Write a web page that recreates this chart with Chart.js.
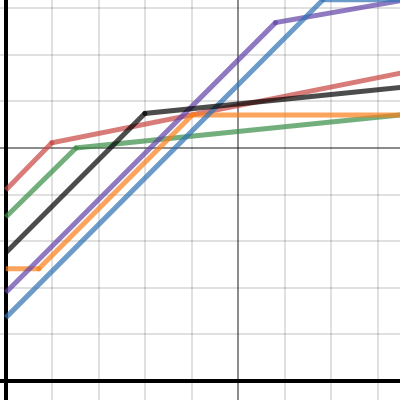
<!DOCTYPE html>
<html>
<head>
<meta charset="utf-8">
<script src="https://cdn.jsdelivr.net/npm/chart.js@4"></script>
<style>
  html, body { margin: 0; padding: 0; background: #fff; }
  #wrap { width: 400px; height: 400px; }
</style>
</head>
<body>
<div id="wrap"><canvas id="plot"></canvas></div>
<script>
// vertices of each piecewise line (grid unit = 1)
const blackX = [0, 2.99, 8.6];
const blackY = [2.75, 5.74, 6.31];
const blueX = [0, 6.82, 8.6];
const blueY = [1.36, 8.18, 8.18];
const purpleX = [0, 5.80, 8.6];
const purpleY = [1.90, 7.69, 8.18];
const orangeX = [0, 0.71, 4.01, 8.6];
const orangeY = [2.41, 2.41, 5.71, 5.71];
const greenX = [0, 1.51, 8.6];
const greenY = [3.52, 5.00, 5.72];
const redX = [0, 0.99, 8.6];
const redY = [4.10, 5.11, 6.63];

const gridTicks = [0, 1, 2, 3, 4, 5, 6, 7, 8];

function pts(xs, ys) {
  return xs.map((x, i) => ({ x: x, y: ys[i] }));
}
// dot only on the inner vertices
function dots(xs) {
  return xs.map((x, i) => (i === 0 || i === xs.length - 1) ? 0 : 2.5);
}

function line(label, xs, ys, color) {
  return {
    label: label,
    data: pts(xs, ys),
    borderColor: color,
    backgroundColor: color,
    pointBackgroundColor: color,
    pointBorderWidth: 0,
    pointRadius: dots(xs),
    borderWidth: 5,
    fill: false,
    tension: 0,
  };
}

function gridColor(ctx) {
  const v = ctx.tick.value;
  if (v === 0) return "#000";
  if (v === 5) return "rgba(0,0,0,0.45)";
  return "rgba(0,0,0,0.12)";
}
function gridWidth(ctx) {
  return ctx.tick.value === 0 ? 4 : 2;
}
// one grid line per whole unit, nothing at the edges
function wholeTicks(scale) {
  scale.ticks = gridTicks.map(v => ({ value: v }));
}

const ctx = document.getElementById("plot");
new Chart(ctx, {
  type: "line",
  data: {
    datasets: [
      line("black", blackX, blackY, "rgba(0,0,0,0.7)"),
      line("blue", blueX, blueY, "rgba(45,112,179,0.7)"),
      line("purple", purpleX, purpleY, "rgba(96,66,166,0.7)"),
      line("orange", orangeX, orangeY, "rgba(250,126,25,0.7)"),
      line("green", greenX, greenY, "rgba(56,140,70,0.7)"),
      line("red", redX, redY, "rgba(199,68,64,0.7)"),
    ],
  },
  options: {
    responsive: true,
    maintainAspectRatio: false,
    animation: false,
    layout: { padding: 0 },
    plugins: {
      legend: { display: false },
      tooltip: { enabled: false },
    },
    scales: {
      x: {
        type: "linear",
        min: -0.125,
        max: 8.477,
        afterBuildTicks: wholeTicks,
        border: { display: false },
        ticks: { display: false },
        grid: { drawTicks: false, color: gridColor, lineWidth: gridWidth },
      },
      y: {
        type: "linear",
        min: -0.408,
        max: 8.176,
        afterBuildTicks: wholeTicks,
        border: { display: false },
        ticks: { display: false },
        grid: { drawTicks: false, color: gridColor, lineWidth: gridWidth },
      },
    },
  },
});
</script>
</body>
</html>
